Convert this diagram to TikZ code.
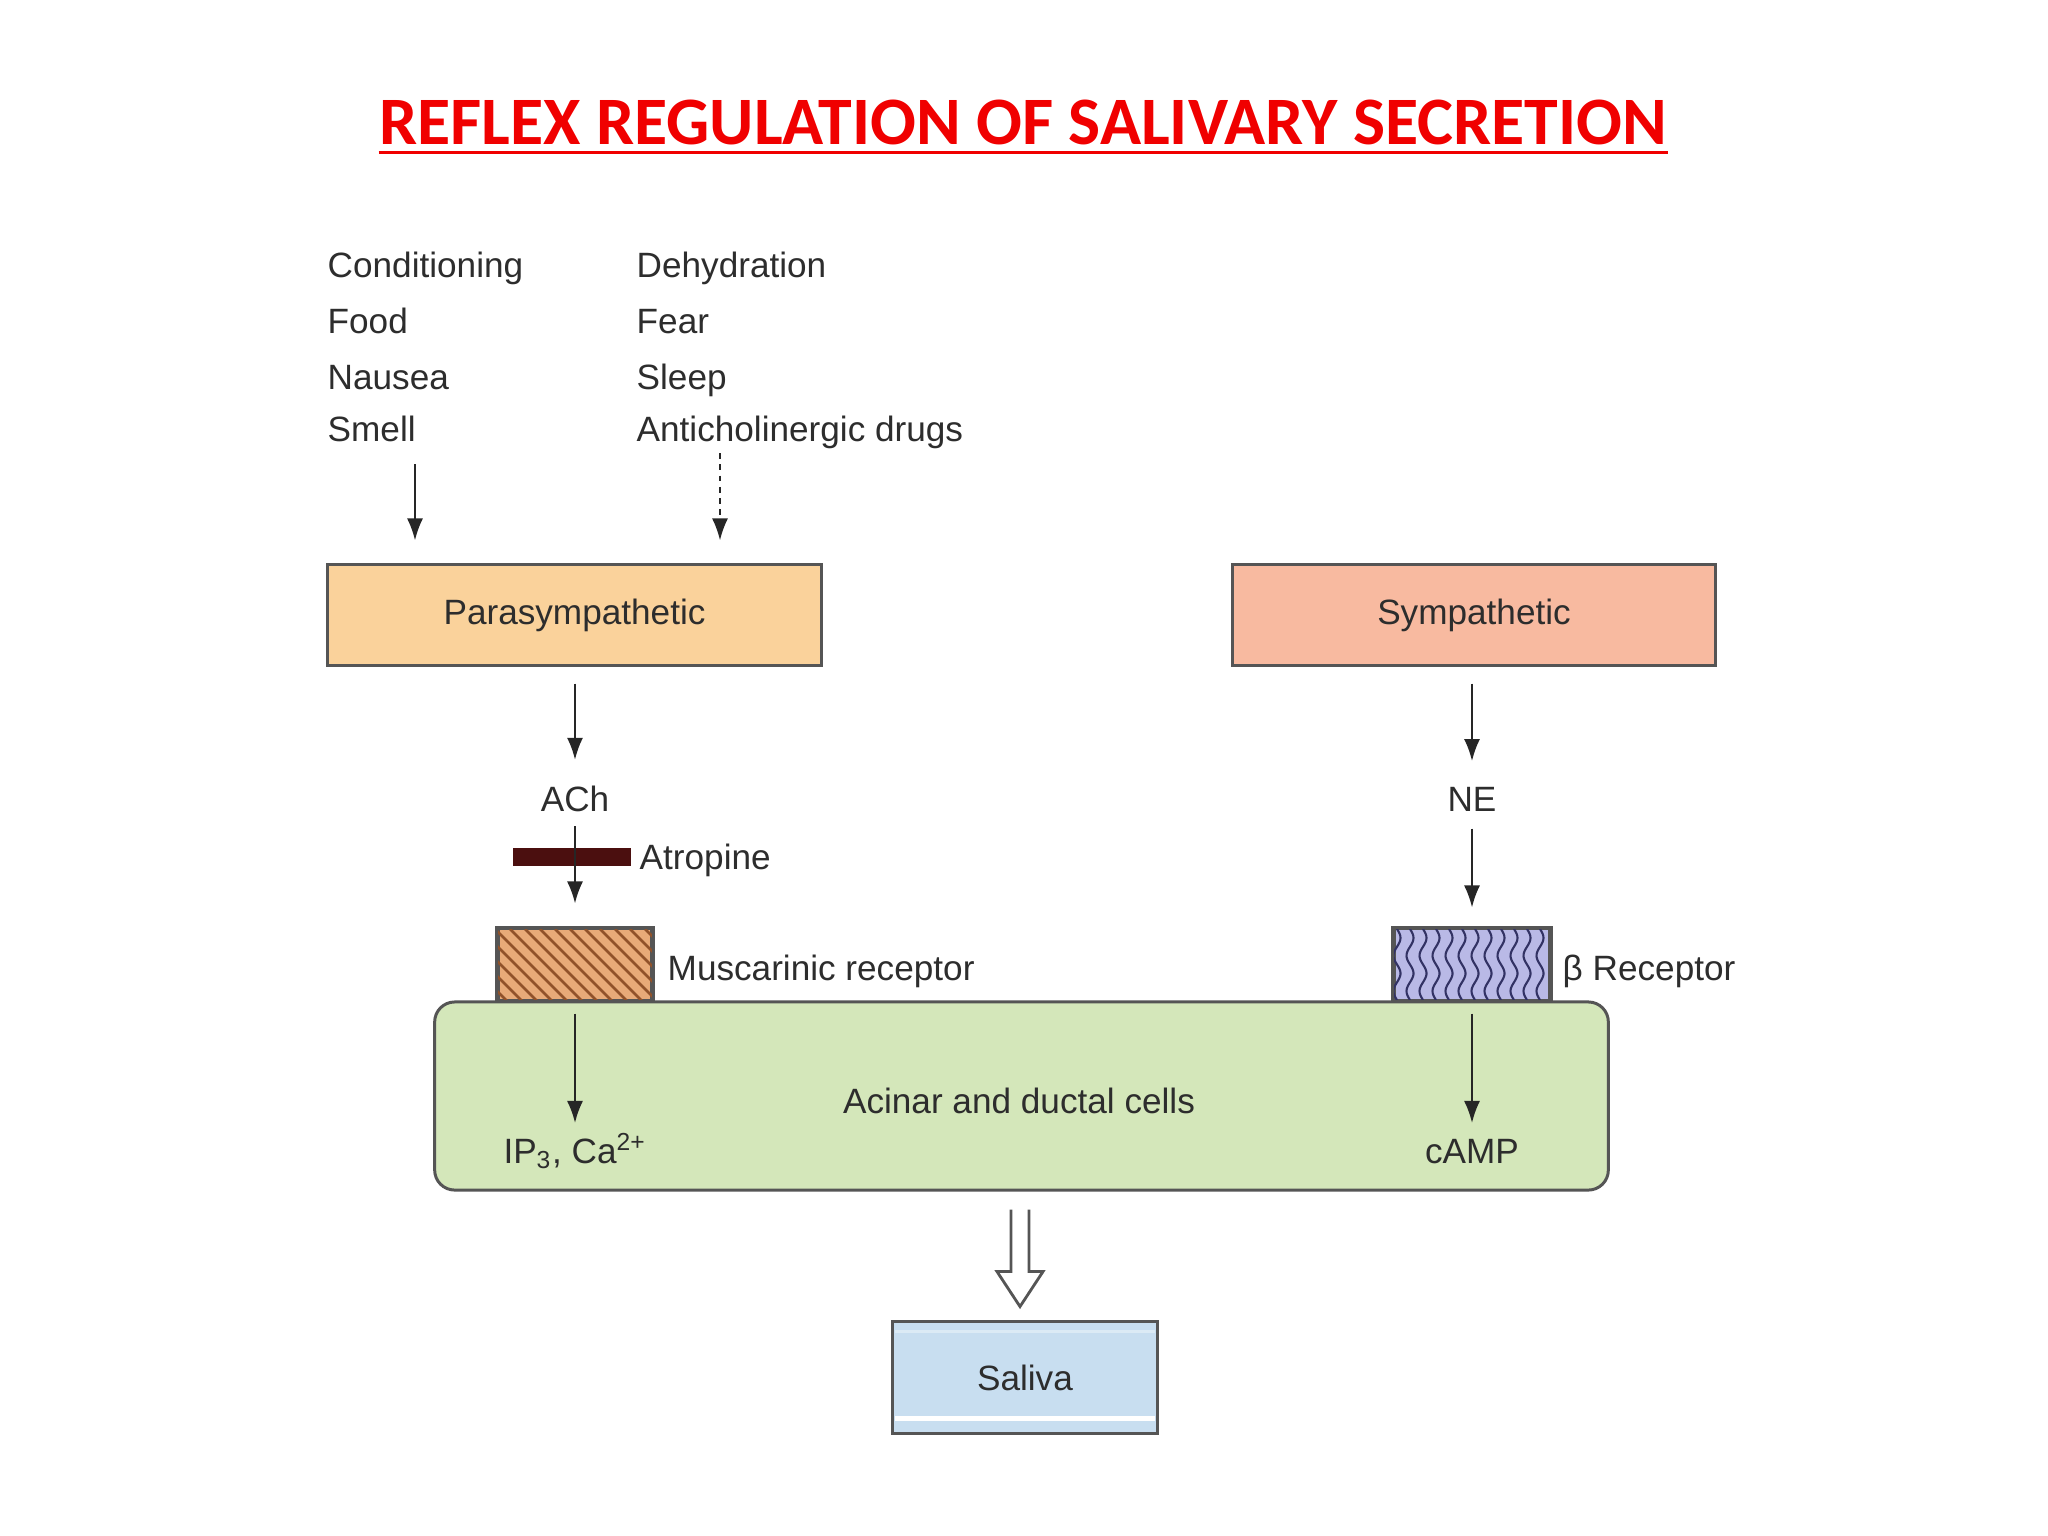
\documentclass[tikz,border=0pt]{standalone}
\usepackage{fontspec}
\setmainfont{Liberation Sans}
\newfontfamily\titlefont{Carlito}
\usetikzlibrary{arrows.meta,calc}
\definecolor{txt}{RGB}{45,45,45}
\definecolor{parafill}{RGB}{250,210,155}
\definecolor{sympfill}{RGB}{248,186,160}
\definecolor{acfill}{RGB}{212,231,186}
\definecolor{salfill}{RGB}{200,222,240}
\definecolor{musfill}{RGB}{232,170,120}
\definecolor{musline}{RGB}{145,82,42}
\definecolor{betafill}{RGB}{185,185,230}
\definecolor{betaline}{RGB}{50,50,100}
\definecolor{atro}{RGB}{75,15,15}
\definecolor{edge}{RGB}{85,85,85}
\definecolor{titlered}{RGB}{240,0,0}

\begin{document}
\begin{tikzpicture}[x=0.01cm,y=-0.01cm,
  lbl/.style={inner sep=0pt, text=txt, font=\fontsize{10pt}{12pt}\selectfont},
  boxnode/.style={draw=edge, line width=0.85pt, inner sep=0pt, text=txt, font=\fontsize{10pt}{12pt}\selectfont},
  arr/.style={draw=black!85, line width=0.6pt, -{Latex[length=0.22cm,width=0.16cm]}},
  dotarr/.style={arr, dash pattern=on 1.7pt off 1.5pt},
]
\useasboundingbox (0,0) rectangle (2048,1536);
\fill[white] (0,0) rectangle (2048,1536);

% title
\node[anchor=base, inner sep=0pt, text=titlered, font=\titlefont\bfseries\fontsize{19.3pt}{23pt}\selectfont] (title) at (1023,144) {REFLEX REGULATION OF SALIVARY SECRETION};
\draw[titlered, line width=1.1pt] ([yshift=-0.085cm]title.base west) -- ([yshift=-0.085cm]title.base east);

% stimuli
\node[lbl, anchor=base west] (cond) at (327,277) {Conditioning};
\node[lbl, anchor=base west] (food) at (327,333) {Food};
\node[lbl, anchor=base west] (naus) at (327,389) {Nausea};
\node[lbl, anchor=base west] (smell) at (327,441) {Smell};
\node[lbl, anchor=base west] (dehy) at (636,277) {Dehydration};
\node[lbl, anchor=base west] (fear) at (636,333) {Fear};
\node[lbl, anchor=base west] (sleep) at (636,389) {Sleep};
\node[lbl, anchor=base west] (antic) at (636,441) {Anticholinergic drugs};

% autonomic boxes
\node[boxnode, fill=parafill, minimum width=4.93cm, minimum height=1.00cm] (para) at (574.5,615) {Parasympathetic};
\node[boxnode, fill=sympfill, minimum width=4.82cm, minimum height=1.00cm] (sym) at (1474,615) {Sympathetic};

\coordinate (inA) at (415,464);
\coordinate (inB) at (720,453);
\draw[arr, shorten >=0.23cm] (inA) -- (inA |- para.north);
\draw[dotarr, shorten >=0.23cm] (inB) -- (inB |- para.north);

% transmitters
\node[lbl, anchor=base] (ach) at (575,811) {ACh};
\node[lbl, anchor=base] (ne) at (1472,811) {NE};
\draw[arr, shorten <=0.17cm, shorten >=0.25cm] (para.south -| ach.south) -- (ach.north);
\draw[arr, shorten <=0.17cm, shorten >=0.25cm] (sym.south -| ne.south) -- (ne.north);

% acinar cells
\node[draw=edge, fill=acfill, line width=0.85pt, rounded corners=0.2cm, minimum width=11.73cm, minimum height=1.88cm, inner sep=0pt] (acin) at (1021.5,1096) {};
\node[lbl] (aclbl) at (1019,1101) {Acinar and ductal cells};

% receptors
\node[draw=edge, fill=musfill, line width=0.85pt, minimum width=1.53cm, minimum height=0.71cm, inner sep=0pt] (mus) at (575,964.5) {};
\begin{scope}
  \clip (mus.south west) rectangle (mus.north east);
  \foreach \k in {0,...,16} \draw[musline, line width=0.75pt] (420+\k*15,929) -- ++(75,75);
\end{scope}
\draw[edge, line width=0.85pt] (mus.south west) rectangle (mus.north east);

\node[draw=edge, fill=betafill, line width=0.85pt, minimum width=1.55cm, minimum height=0.71cm, inner sep=0pt] (beta) at (1472,964.5) {};
\begin{scope}
  \clip (beta.south west) rectangle (beta.north east);
  \foreach \k in {0,...,11} \draw[betaline, line width=0.6pt] plot[domain=0:71, samples=40, smooth] ({1397+\k*13+3.5*sin(\x*10.14)}, {929+\x});
\end{scope}
\draw[edge, line width=0.85pt] (beta.south west) rectangle (beta.north east);

\node[lbl, anchor=base west] (muslbl) at (667,980) {Muscarinic receptor};
\node[lbl, anchor=base west] (betalbl) at (1562,980) {β Receptor};

% atropine block
\node[fill=atro, minimum width=1.18cm, minimum height=0.18cm, inner sep=0pt] (atrbar) at (572,857) {};
\node[lbl, anchor=base west] (atr) at (639,869) {Atropine};
\draw[arr, shorten <=0.14cm, shorten >=0.24cm] (ach.south) -- (mus.north);
\draw[arr, shorten <=0.17cm, shorten >=0.20cm] (ne.south) -- (beta.north);

% second messengers
\node[lbl, anchor=base] (ip3) at (575,1163) {IP\textsubscript{3}, Ca\textsuperscript{2+}};
\node[lbl, anchor=base] (camp) at (1472,1163) {cAMP};
\draw[arr, shorten <=0.12cm, shorten >=0.40cm] (mus.south) -- (ip3.base);
\draw[arr, shorten <=0.12cm, shorten >=0.40cm] (beta.south) -- (camp.base);

% saliva
\node[boxnode, fill=salfill, minimum width=2.64cm, minimum height=1.11cm] (sal) at (1025,1377.5) {Saliva};
\draw[white, line width=1.3pt] ($(sal.south west)+(4,-16)$) -- ($(sal.south east)+(-4,-16)$);
\draw[white!35!salfill, line width=1.0pt] ($(sal.north west)+(4,11)$) -- ($(sal.north east)+(-4,11)$);

% hollow arrow from cells to saliva
\begin{scope}[shift={(acin.south)}]
  \draw[edge, line width=0.8pt, fill=white, line join=miter] (-10.5,18) -- (-10.5,80) -- (-24.5,80) -- (-1.5,115) -- (21.5,80) -- (7.5,80) -- (7.5,18);
\end{scope}
\end{tikzpicture}
\end{document}
